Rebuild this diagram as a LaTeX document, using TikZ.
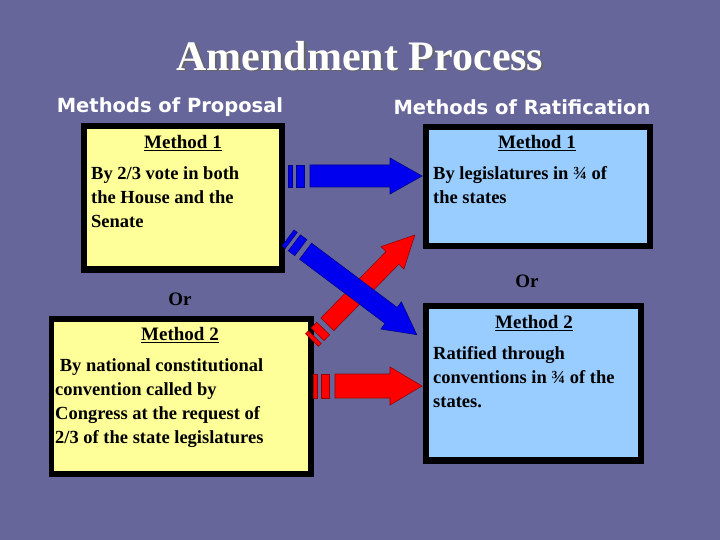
\documentclass[tikz,border=0pt]{standalone}
\usepackage{fontspec}
\setmainfont{Liberation Serif}
\newfontfamily\hsans{DejaVu Sans}
\definecolor{bg}{HTML}{66669A}
\definecolor{yel}{HTML}{FFFF99}
\definecolor{lblue}{HTML}{99CCFF}
\definecolor{abl}{HTML}{0000EE}
\definecolor{ared}{HTML}{FF0000}
\newcommand{\fatarrow}[6]{%
\begin{scope}[shift={(#1,#2)},rotate=#3]
\fill[#5,draw=#6,line width=0.6pt] (0,-#4) rectangle (4,#4);
\fill[#5,draw=#6,line width=0.6pt] (8,-#4) rectangle (16,#4);
\end{scope}}
\newcommand{\fathead}[6]{%
\begin{scope}[shift={(#1,#2)},rotate=#3]
\fill[#5,draw=#5!60!black,line width=0.6pt] (22,-#4) -- ({#6-32},-#4) -- ({#6-32},{-#4-7}) -- (#6,0) -- ({#6-32},{#4+7}) -- ({#6-32},#4) -- (22,#4) -- cycle;
\end{scope}}
\begin{document}
\begin{tikzpicture}[x=1pt,y=-1pt,
  btxt/.style={font=\fontsize{18.5}{24}\selectfont\bfseries,align=left,anchor=north west,inner sep=0pt},
  hd/.style={font=\fontsize{19.5}{24}\selectfont\hsans\bfseries,text=white},
  mt/.style={font=\fontsize{19}{20}\selectfont\bfseries}]
\useasboundingbox (0,0) rectangle (720,540);
\fill[bg] (0,0) rectangle (720,540);
\node[text=black!60,font=\fontsize{42}{44}\selectfont\bfseries] at (361.5,57.5) {Amendment Process};
\node (title) [text=white,font=\fontsize{42}{44}\selectfont\bfseries] at (360,56) {Amendment Process};
\node (hp) [hd] at (170,107) {Methods of Proposal};
\node (hr) [hd] at (522,107) {Methods of Ratification};
% boxes
\fill[black] (81,123) rectangle (285,273); \fill[yel] (87,129) rectangle (279,266);
\fill[black] (49,316) rectangle (314,477); \fill[yel] (54,322) rectangle (308,471);
\fill[black] (423,124) rectangle (653,249); \fill[lblue] (429,130) rectangle (647,243);
\fill[black] (423,303) rectangle (644,464); \fill[lblue] (429,309) rectangle (638,457);
\node (p1) [mt] at (183,143) {\underline{Method 1}};
\node (p1t) [btxt] at (91,166) {By 2/3 vote in both\\the House and the\\Senate};
\node (or1) [mt] at (180,299) {Or};
\node (p2) [mt] at (180,335) {\underline{Method 2}};
\node (p2t) [btxt] at (55,358) {\ By national constitutional\\convention called by\\Congress at the request of\\2/3 of the state legislatures};
\node (r1) [mt] at (537,143) {\underline{Method 1}};
\node (r1t) [btxt] at (433,166) {By legislatures in ¾ of\\the states};
\node (or2) [mt] at (527,281) {Or};
\node (r2) [mt] at (534,323) {\underline{Method 2}};
\node (r2t) [btxt] at (433,346) {Ratified through\\conventions in ¾ of the\\states.};
% arrows
\fatarrow{288}{176}{0}{11}{abl}{abl!60!black}
\fathead{288}{176}{0}{11}{abl}{134}
\fatarrow{313}{386}{0}{12}{ared}{ared!60!black}
\fathead{313}{386}{0}{12}{ared}{109}
\fatarrow{312}{340}{45.6}{9}{ared}{ared!60!black}
\fathead{312}{340}{45.6}{9}{ared}{147}
\fatarrow{288}{238}{-36.9}{10}{abl}{abl!60!black}
\fathead{288}{238}{-36.9}{10}{abl}{161}
\end{tikzpicture}
\end{document}
